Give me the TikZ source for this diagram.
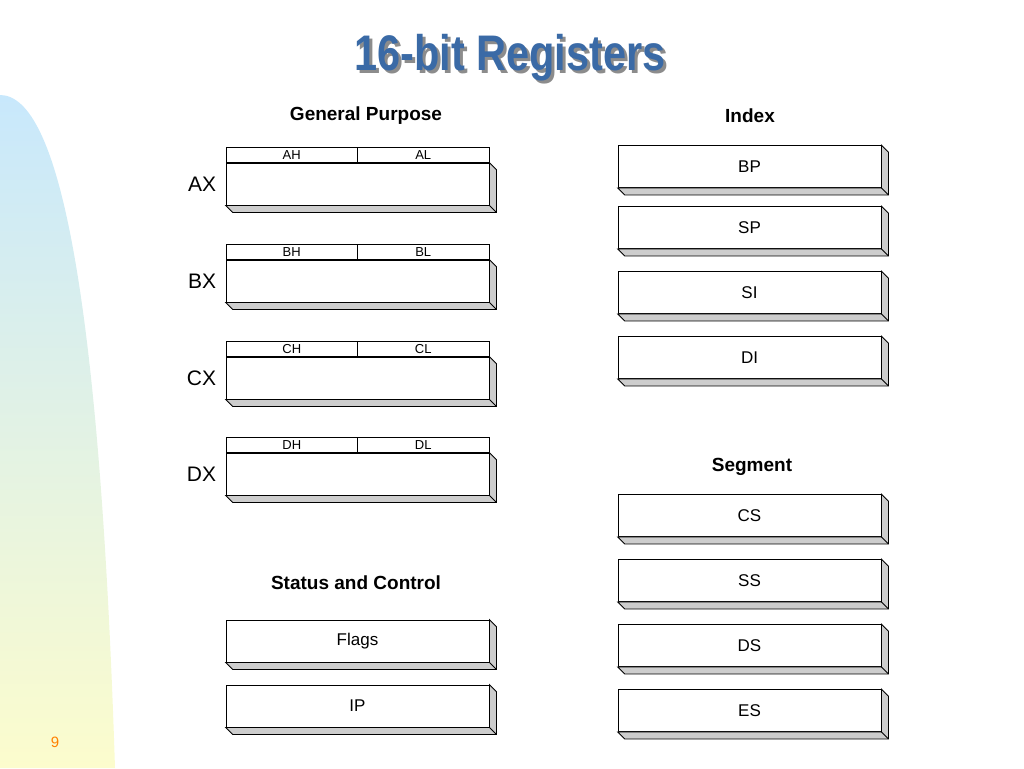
\documentclass[tikz,border=0pt]{standalone}
\usepackage{fontspec}
\setmainfont{Liberation Sans}
\newfontfamily\titlefont[FakeStretch=0.83]{Liberation Sans}
\usetikzlibrary{positioning}
\definecolor{titleblue}{RGB}{58,106,166}
\definecolor{skyblue}{RGB}{200,232,252}
\definecolor{paleyellow}{RGB}{252,252,205}
\definecolor{facegray}{RGB}{205,205,205}
\newcommand{\slab}[1]{%
  \filldraw[fill=facegray,draw=black,line width=0.8pt]
    (#1.north east) -- ([shift={(7,7)}]#1.north east)
    -- ([shift={(7,7)}]#1.south east) -- ([shift={(7,7)}]#1.south west)
    -- (#1.south west) -- (#1.south east) -- cycle;
  \draw[line width=0.8pt] (#1.south east) -- ([shift={(7,7)}]#1.south east);}
\begin{document}
\begin{tikzpicture}[x=1pt,y=-1pt,
    reg/.style={draw,line width=0.8pt,fill=white,minimum width=263pt,
                minimum height=42pt,inner sep=0pt,font=\fontsize{17}{17}\selectfont},
    half/.style={draw,line width=0.8pt,minimum width=131.5pt,minimum height=15pt,
                 inner sep=0pt,font=\fontsize{13}{13}\selectfont},
    head/.style={font=\bfseries\fontsize{19}{19}\selectfont},
    lbl/.style={font=\fontsize{21}{21}\selectfont}]
  \useasboundingbox (0,0) rectangle (1024,768);
  % background
  \shade[top color=skyblue,bottom color=paleyellow]
    (0,95) .. controls (60,95) and (100,300) .. (115,768) -- (0,768) -- cycle;

  \node[font=\titlefont\bfseries\fontsize{50}{50}\selectfont,text=black!45]
    (shadow) at (513,61) {16-bit Registers};
  \node[font=\titlefont\bfseries\fontsize{50}{50}\selectfont,text=titleblue]
    (title) at (510,58) {16-bit Registers};
  \node[text=orange,font=\fontsize{15}{15}\selectfont] (page) at (55,742) {9};

  % general purpose
  \node[head] (gp) at (366,116) {General Purpose};
  \foreach \r/\y in {A/184,B/281,C/378,D/474}{
    \node[reg,minimum height=42pt] (\r X) at (357.5,\y) {};
    \slab{\r X}
    \node[half,anchor=south west] (\r H) at (\r X.north west) {\r H};
    \node[half,anchor=south east] (\r L) at (\r X.north east) {\r L};
    \node[lbl,left=6pt of \r X.west] (\r Xl) {\r X};
  }

  % status and control
  \node[head] (sc) at (356,583) {Status and Control};
  \foreach \n/\y in {Flags/641,IP/706}{
    \node[reg] (\n) at (357.5,\y) {\n};
    \slab{\n}
  }

  % index
  \node[head] (idx) at (750,116) {Index};
  \foreach \n/\y in {BP/166.5,SP/227.5,SI/292.5,DI/357.5}{
    \node[reg] (\n) at (749.5,\y) {\n};
    \slab{\n}
  }

  % segment
  \node[head] (seg) at (752,467) {Segment};
  \foreach \n/\y in {CS/515.5,SS/580.5,DS/645.5,ES/710.5}{
    \node[reg] (\n) at (749.5,\y) {\n};
    \slab{\n}
  }
\end{tikzpicture}
\end{document}
